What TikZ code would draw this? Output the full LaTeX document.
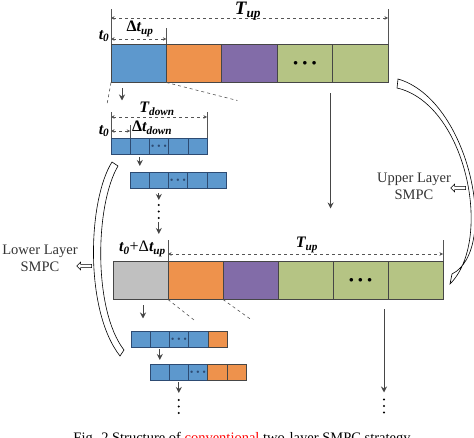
\documentclass[tikz,border=0pt]{standalone}
\usepackage{fontspec}
\setmainfont{Liberation Serif}
\usepackage{tikz}
\usetikzlibrary{arrows.meta,positioning,calc,shapes.arrows}
\definecolor{cblue}{RGB}{93,152,205}
\definecolor{corange}{RGB}{238,146,76}
\definecolor{cpurple}{RGB}{130,108,168}
\definecolor{cgreen}{RGB}{181,196,132}
\definecolor{cgrey}{RGB}{192,192,192}
\definecolor{celledge}{RGB}{70,70,70}
\definecolor{blueedge}{RGB}{45,75,115}
\definecolor{dimgrey}{RGB}{85,85,85}
\newcommand{\cdotsbig}{{\fontsize{9}{9}\selectfont$\bullet\hspace{2.5pt}\bullet\hspace{2.5pt}\bullet$}}
\newcommand{\cdotssmall}{{\color{blueedge}\fontsize{5}{5}\selectfont$\bullet\hspace{1pt}\bullet\hspace{1pt}\bullet$}}
\tikzset{
  bigcell/.style={draw=celledge,line width=0.8pt,minimum width=55.4pt,minimum height=38pt,
                  inner sep=0pt,outer sep=0pt},
  smcell/.style={draw=blueedge,fill=cblue,line width=0.6pt,minimum width=19.2pt,
                 minimum height=16pt,inner sep=0pt,outer sep=0pt},
  dimline/.style={dashed,draw=dimgrey,line width=0.6pt,
                  {Stealth[length=3.5pt,width=3.5pt]}-{Stealth[length=3.5pt,width=3.5pt]}},
  tickline/.style={draw=dimgrey,line width=0.5pt},
  zoomline/.style={draw=dimgrey,dashed,line width=0.6pt},
  dn/.style={-{Stealth[length=6pt,width=6pt]},line width=1pt,draw=celledge},
  sym/.style={font=\fontsize{16}{16}\selectfont\bfseries\itshape,inner sep=1pt},
  symbig/.style={sym,font=\fontsize{19}{19}\selectfont\bfseries\itshape},
  side/.style={font=\fontsize{14.5}{17}\selectfont,align=center,text=black!80},
  band/.style={draw=black,fill=white,line width=0.6pt},
  hollow/.style={single arrow,draw=black,fill=white,line width=0.5pt,minimum height=15pt,
                 minimum width=8pt,single arrow head extend=1.5pt,inner sep=0.8pt,
                 shape border rotate=180},
  vdot/.style={line width=2.2pt,line cap=round,dash pattern=on 0pt off 6.5pt,draw=black},
}

\begin{document}
\begin{tikzpicture}[x=1pt,y=-1pt]
  \useasboundingbox (0,0) rectangle (474,438);

  % upper layer horizon
  \node[bigcell,fill=cblue,anchor=north west] (u1) at (111,44.5) {};
  \node[bigcell,fill=corange,right=0pt of u1] (u2) {};
  \node[bigcell,fill=cpurple,right=0pt of u2] (u3) {};
  \node[bigcell,fill=cgreen,right=0pt of u3] (u4) {\cdotsbig};
  \node[bigcell,fill=cgreen,right=0pt of u4] (u5) {};

  \draw[tickline] (u1.north west) -- ([yshift=35pt]u1.north west);
  \draw[tickline] (u5.north east) -- ([yshift=35pt]u5.north east);
  \draw[tickline] (u1.north east) -- ([yshift=16pt]u1.north east);
  \draw[dimline] ([yshift=26.5pt]u1.north west) -- ([yshift=26.5pt]u5.north east);
  \draw[dimline] ([yshift=5.5pt]u1.north west) -- ([yshift=5.5pt]u1.north east);
  \node[symbig] (tup) at (248,11) {T\textsubscript{up}};
  \node[sym] (dtup) at (140,29) {{\upshape Δ}t\textsubscript{up}};
  \node[sym,anchor=east] (tza) at (110.5,36) {t\textsubscript{0}};

  % lower layer, first steps
  \node[smcell,anchor=north west] (a1) at (111,138) {};
  \node[smcell,right=0pt of a1] (a2) {};
  \node[smcell,right=0pt of a2] (a3) {\cdotssmall};
  \node[smcell,right=0pt of a3] (a4) {};
  \node[smcell,right=0pt of a4] (a5) {};

  \node[smcell,anchor=north west] (b1) at (130,172) {};
  \node[smcell,right=0pt of b1] (b2) {};
  \node[smcell,right=0pt of b2] (b3) {\cdotssmall};
  \node[smcell,right=0pt of b3] (b4) {};
  \node[smcell,right=0pt of b4] (b5) {};

  \draw[tickline] (a1.north west) -- ([yshift=26pt]a1.north west);
  \draw[tickline] (a5.north east) -- ([yshift=26pt]a5.north east);
  \draw[tickline] (a1.north east) -- ([yshift=13pt]a1.north east);
  \draw[dimline] ([yshift=21pt]a1.north west) -- ([yshift=21pt]a5.north east);
  \draw[dimline] ([yshift=7pt]a1.north west) -- ([yshift=7pt]a1.north east);
  \node[sym] (tdown) at (157,109) {T\textsubscript{down}};
  \node[sym,anchor=west] (dtdown) at (131,128) {{\upshape Δ}t\textsubscript{down}};
  \node[sym,anchor=east] (tzb) at (110.5,131) {t\textsubscript{0}};

  \draw[zoomline] (u1.south west) -- ++(-4,22);
  \draw[zoomline] (u1.south east) -- ++(71,18);
  \draw[dn] ([xshift=11pt,yshift=-6pt]u1.south west) -- ([xshift=11pt,yshift=-18pt]u1.south west);
  \draw[dn] ([yshift=-3pt]a2.south) -- ([yshift=-12pt]a2.south);
  \draw[dn] ([yshift=-5pt]b2.south) -- ([yshift=-12pt]b2.south);
  \draw[vdot] ([yshift=-17pt]b2.south) -- ([yshift=-33pt]b2.south);
  \draw[dn] ([yshift=-34pt]b2.south) -- ([yshift=-46pt]b2.south);

  % upper layer, shifted horizon
  \node[bigcell,fill=cgrey,minimum width=55pt,anchor=north west] (l1) at (113,261.5) {};
  \node[bigcell,fill=corange,minimum width=55pt,right=0pt of l1] (l2) {};
  \node[bigcell,fill=cpurple,minimum width=55pt,right=0pt of l2] (l3) {};
  \node[bigcell,fill=cgreen,minimum width=55pt,right=0pt of l3] (l4) {};
  \node[bigcell,fill=cgreen,minimum width=55pt,right=0pt of l4] (l5) {\cdotsbig};
  \node[bigcell,fill=cgreen,minimum width=55pt,right=0pt of l5] (l6) {};

  \draw[tickline] (l2.north west) -- ([yshift=21pt]l2.north west);
  \draw[tickline] (l6.north east) -- ([yshift=21pt]l6.north east);
  \draw[dimline] ([yshift=7.5pt]l2.north west) -- ([yshift=7.5pt]l6.north east);
  \node[sym,anchor=east] (tzc) at (167,249) {t\textsubscript{0}{\upshape\mdseries +Δ}t\textsubscript{up}};
  \node[sym] (tupb) at (307,245) {T\textsubscript{up}};

  \draw[dn] ([xshift=-2pt,yshift=-11pt]u4.south east) -- ([xshift=-2pt,yshift=-126pt]u4.south east);

  % lower layer, after the shift
  \node[smcell,anchor=north west] (c1) at (131,331) {};
  \node[smcell,right=0pt of c1] (c2) {};
  \node[smcell,right=0pt of c2] (c3) {\cdotssmall};
  \node[smcell,right=0pt of c3] (c4) {};
  \node[smcell,fill=corange,draw=celledge,right=0pt of c4] (c5) {};

  \node[smcell,anchor=north west] (d1) at (150,364) {};
  \node[smcell,right=0pt of d1] (d2) {};
  \node[smcell,right=0pt of d2] (d3) {\cdotssmall};
  \node[smcell,fill=corange,draw=celledge,right=0pt of d3] (d4) {};
  \node[smcell,fill=corange,draw=celledge,right=0pt of d4] (d5) {};

  \draw[zoomline] (l2.south west) -- ++(28,22);
  \draw[zoomline] (l2.south east) -- ++(28,20);
  \draw[dn] ([xshift=2.5pt,yshift=-6pt]l1.south) -- ([xshift=2.5pt,yshift=-19pt]l1.south);
  \draw[dn] ([yshift=-2pt]c2.south) -- ([yshift=-13pt]c2.south);
  \draw[dn] ([yshift=-2pt]d2.south) -- ([yshift=-13pt]d2.south);
  \draw[vdot] ([yshift=-20pt]d2.south) -- ([yshift=-34pt]d2.south);
  \draw[dn] ([xshift=-4pt,yshift=-10pt]l5.south east) -- ([xshift=-4pt,yshift=-93pt]l5.south east);
  \draw[vdot] ([xshift=-4pt,yshift=-100pt]l5.south east) -- ([xshift=-4pt,yshift=-114pt]l5.south east);

  % receding-horizon bands
  \draw[band] (398,79) .. controls (470,100) and (500,250) .. (452,274)
        -- (450,284) .. controls (494,240) and (466,104) .. (397,88) -- cycle;
  \draw[band] (112,162) .. controls (88,200) and (84,310) .. (120,356)
        -- (124,350) .. controls (93,310) and (95,205) .. (118,166) -- cycle;

  \node[side] (upper) at (414,186) {Upper Layer\\SMPC};
  \node[hollow] (upa) at (459,188) {};
  \node[side] (lower) at (40,258) {Lower Layer\\SMPC};
  \node[hollow] (loa) at (85,266) {};

  \node[anchor=base,font=\fontsize{14.5}{16}\selectfont] (cap) at (242,442)
    {Fig. 2 Structure of \textcolor{red}{conventional} two-layer SMPC strategy};
\end{tikzpicture}
\end{document}
